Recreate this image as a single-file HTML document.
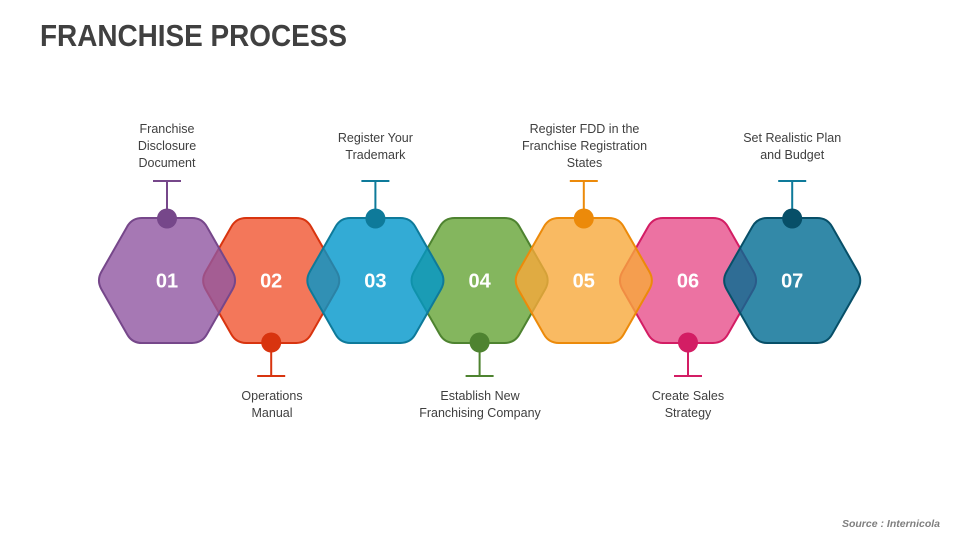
<!DOCTYPE html>
<html>
<head>
<meta charset="utf-8">
<style>
  html,body{margin:0;padding:0;background:#fff;}
  svg{display:block;}
  .lbl{font-family:"Liberation Sans",sans-serif;font-size:12.5px;fill:#404040;text-anchor:middle;}
  .num{font-family:"Liberation Sans",sans-serif;font-size:20px;font-weight:bold;fill:#fff;text-anchor:middle;}
</style>
</head>
<body>
<svg width="960" height="540" viewBox="0 0 960 540" xmlns="http://www.w3.org/2000/svg">
  <defs>
    <path id="hex" d="M-65.6,-8.7 L-39.9,-53.8 Q-35,-62.5 -25,-62.5 L25,-62.5 Q35,-62.5 39.9,-53.8 L65.6,-8.7 Q70.5,0 65.6,8.7 L39.9,53.8 Q35,62.5 25,62.5 L-25,62.5 Q-35,62.5 -39.9,53.8 L-65.6,8.7 Q-70.5,0 -65.6,-8.7 Z"/>
  </defs>

  <!-- Title -->
  <text x="40" y="46" font-family="Liberation Sans, sans-serif" font-weight="bold" font-size="31" fill="#404040" textLength="307" lengthAdjust="spacingAndGlyphs">FRANCHISE PROCESS</text>

  <!-- Even hexagons (underneath) -->
  <use href="#hex" transform="translate(271.2,280.5)" fill="#F05531" fill-opacity="0.8" stroke="#D8340F" stroke-width="2"/>
  <use href="#hex" transform="translate(479.6,280.5)" fill="#65A436" fill-opacity="0.8" stroke="#4E8330" stroke-width="2"/>
  <use href="#hex" transform="translate(688,280.5)" fill="#E74F8B" fill-opacity="0.8" stroke="#D31D64" stroke-width="2"/>

  <!-- Odd hexagons (on top) -->
  <use href="#hex" transform="translate(167,280.5)" fill="#9056A1" fill-opacity="0.8" stroke="#76478A" stroke-width="2"/>
  <use href="#hex" transform="translate(375.4,280.5)" fill="#0096CB" fill-opacity="0.8" stroke="#0E7A9A" stroke-width="2"/>
  <use href="#hex" transform="translate(583.8,280.5)" fill="#F8A93B" fill-opacity="0.8" stroke="#EC8A0A" stroke-width="2"/>
  <use href="#hex" transform="translate(792.2,280.5)" fill="#006B92" fill-opacity="0.8" stroke="#074F68" stroke-width="2"/>

  <!-- Numbers -->
  <text class="num" x="167" y="287.5">01</text>
  <text class="num" x="271.2" y="287.5">02</text>
  <text class="num" x="375.4" y="287.5">03</text>
  <text class="num" x="479.6" y="287.5">04</text>
  <text class="num" x="583.8" y="287.5">05</text>
  <text class="num" x="688" y="287.5">06</text>
  <text class="num" x="792.2" y="287.5">07</text>

  <!-- Top connectors -->
  <g stroke-width="2" fill="none">
    <path d="M153,181 H181 M167,181 V218" stroke="#76478A"/>
    <path d="M361.4,181 H389.4 M375.4,181 V218" stroke="#0E7A9A"/>
    <path d="M569.8,181 H597.8 M583.8,181 V218" stroke="#EC8A0A"/>
    <path d="M778.2,181 H806.2 M792.2,181 V218" stroke="#0E7A9A"/>
  </g>
  <circle cx="167" cy="218.5" r="10" fill="#76478A"/>
  <circle cx="375.4" cy="218.5" r="10" fill="#0E7A9A"/>
  <circle cx="583.8" cy="218.5" r="10" fill="#EC8A0A"/>
  <circle cx="792.2" cy="218.5" r="10" fill="#074F68"/>

  <!-- Bottom connectors -->
  <g stroke-width="2" fill="none">
    <path d="M257.2,376 H285.2 M271.2,343 V376" stroke="#D8340F"/>
    <path d="M465.6,376 H493.6 M479.6,343 V376" stroke="#4E8330"/>
    <path d="M674,376 H702 M688,343 V376" stroke="#D31D64"/>
  </g>
  <circle cx="271.2" cy="342.5" r="10" fill="#D8340F"/>
  <circle cx="479.6" cy="342.5" r="10" fill="#4E8330"/>
  <circle cx="688" cy="342.5" r="10" fill="#D31D64"/>

  <!-- Top labels -->
  <text class="lbl" x="167" y="133">Franchise</text>
  <text class="lbl" x="167" y="150">Disclosure</text>
  <text class="lbl" x="167" y="167">Document</text>

  <text class="lbl" x="375.4" y="142">Register Your</text>
  <text class="lbl" x="375.4" y="159">Trademark</text>

  <text class="lbl" x="584.5" y="133">Register FDD in the</text>
  <text class="lbl" x="584.5" y="150">Franchise Registration</text>
  <text class="lbl" x="584.5" y="167">States</text>

  <text class="lbl" x="792.2" y="142">Set Realistic Plan</text>
  <text class="lbl" x="792.2" y="159">and Budget</text>

  <!-- Bottom labels -->
  <text class="lbl" x="272" y="400">Operations</text>
  <text class="lbl" x="272" y="417">Manual</text>

  <text class="lbl" x="480" y="400">Establish New</text>
  <text class="lbl" x="480" y="417">Franchising Company</text>

  <text class="lbl" x="688" y="400">Create Sales</text>
  <text class="lbl" x="688" y="417">Strategy</text>

  <!-- Source -->
  <text x="940" y="527" text-anchor="end" font-family="Liberation Sans, sans-serif" font-size="10.5" font-weight="bold" font-style="italic" fill="#7F7F7F">Source : Internicola</text>
</svg>
</body>
</html>
